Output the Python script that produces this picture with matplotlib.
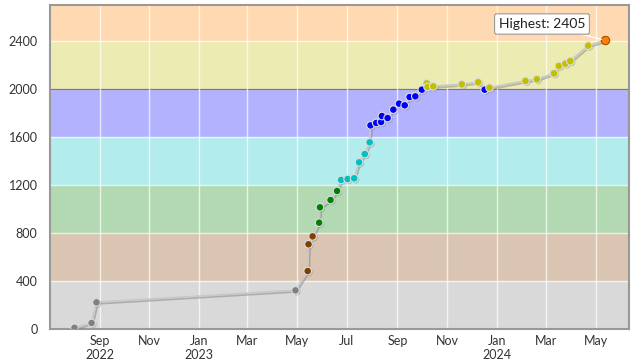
import matplotlib
matplotlib.use("Agg")
import matplotlib.pyplot as plt
import matplotlib.patheffects as pe
import pandas as pd

# Rating history
dates = [
    "2022-08-01", "2022-08-22", "2022-08-28", "2023-04-29", "2023-05-14",
    "2023-05-15", "2023-05-20", "2023-05-28", "2023-05-29", "2023-06-11",
    "2023-06-19", "2023-06-24", "2023-07-02", "2023-07-10", "2023-07-16",
    "2023-07-23", "2023-07-29", "2023-07-30", "2023-08-06", "2023-08-12",
    "2023-08-13", "2023-08-20", "2023-08-27", "2023-09-03", "2023-09-10",
    "2023-09-16", "2023-09-23", "2023-10-01", "2023-10-07", "2023-10-08",
    "2023-10-15", "2023-11-19", "2023-12-09", "2023-12-17", "2023-12-23",
    "2024-02-05", "2024-02-19", "2024-03-11", "2024-03-17", "2024-03-25",
    "2024-03-31", "2024-04-22", "2024-05-13",
]
ratings = [
    10, 50, 222, 322, 483,
    706, 772, 886, 1014, 1075,
    1150, 1242, 1250, 1256, 1389,
    1458, 1556, 1697, 1717, 1725,
    1775, 1758, 1828, 1878, 1864,
    1933, 1939, 1994, 2047, 2017,
    2022, 2039, 2056, 1994, 2011,
    2067, 2081, 2130, 2192, 2211,
    2233, 2361, 2405,
]

# rating bands: lower bound, band colour, point colour
band_edges = [0, 400, 800, 1200, 1600, 2000, 2400, 2800]
band_colors = ["#D9D9D9", "#D9C5B2", "#B2D9B2", "#B2ECEC", "#B2B2FF", "#ECECB2", "#FFD9B2"]
point_colors = ["#808080", "#804000", "#008000", "#00C0C0", "#0000FF", "#C0C000", "#FF8000"]

month_ticks = ["2022-09-01", "2022-11-01", "2023-01-01", "2023-03-01", "2023-05-01",
               "2023-07-01", "2023-09-01", "2023-11-01", "2024-01-01", "2024-03-01",
               "2024-05-01"]
month_labels = ["Sep\n2022", "Nov", "Jan\n2023", "Mar", "May", "Jul", "Sep", "Nov",
                "Jan\n2024", "Mar", "May"]

plt.rcParams["font.family"] = ["Lato", "DejaVu Sans"]

x = pd.to_datetime(dates)
fig = plt.figure(figsize=(6.4, 3.6), dpi=100)
ax = fig.add_axes([50 / 640, 31 / 360, 579 / 640, 324 / 360])

# background bands
for i, c in enumerate(band_colors):
    ax.axhspan(band_edges[i], band_edges[i + 1], color=c, lw=0, zorder=0)
for y in band_edges[1:-1]:
    ax.axhline(y, color="white", lw=1, alpha=0.7, zorder=1)
ax.axhline(2000, color="#777777", lw=0.9, zorder=1)

tick_pos = pd.to_datetime(month_ticks)
for t in tick_pos:
    ax.axvline(t, color="white", lw=1, alpha=0.7, zorder=1)

# rating line with shadow
ax.plot(x, ratings, color="#C8C8C8", lw=1.4, zorder=3,
        path_effects=[pe.SimpleLineShadow(offset=(1, -1), shadow_color="#777777", alpha=0.45),
                      pe.Normal()])

def band_color(r):
    for i in range(len(band_edges) - 1):
        if r < band_edges[i + 1]:
            return point_colors[i]
    return point_colors[-1]

cols = [band_color(r) for r in ratings]
ax.scatter(x[:-1], ratings[:-1], s=30, c=cols[:-1], edgecolors="#DDDDDD", linewidths=0.8, zorder=4,
           path_effects=[pe.SimplePatchShadow(offset=(1, -1), shadow_rgbFace="#777777", alpha=0.3),
                         pe.Normal()])
ax.scatter(x[-1:], ratings[-1:], s=36, c="#FF8000", edgecolors="#A05000", linewidths=0.8, zorder=5)

# highest annotation
ax.annotate("Highest: %d" % max(ratings), xy=(x[-1], ratings[-1]),
            xytext=(542 / 640, 1 - 24 / 360), textcoords="figure fraction",
            ha="center", va="center", fontsize=10, color="#222222",
            bbox=dict(boxstyle="round,pad=0.3,rounding_size=0.15", fc="white", ec="#999999", lw=0.8),
            arrowprops=dict(arrowstyle="-", color="white", lw=1, shrinkA=0, shrinkB=3),
            zorder=6)

ax.set_xlim(pd.Timestamp("2022-07-02"), pd.Timestamp("2024-06-11"))
ax.set_ylim(0, 2700)
ax.set_yticks(band_edges[:-1])
ax.set_xticks(tick_pos)
ax.set_xticklabels(month_labels)
ax.tick_params(length=0, labelsize=9, colors="#333333", pad=4)
ax.tick_params(axis="y", pad=9)
for s in ax.spines.values():
    s.set_color("#999999")
    s.set_linewidth(1.5)

plt.savefig("out.png", dpi=100)
